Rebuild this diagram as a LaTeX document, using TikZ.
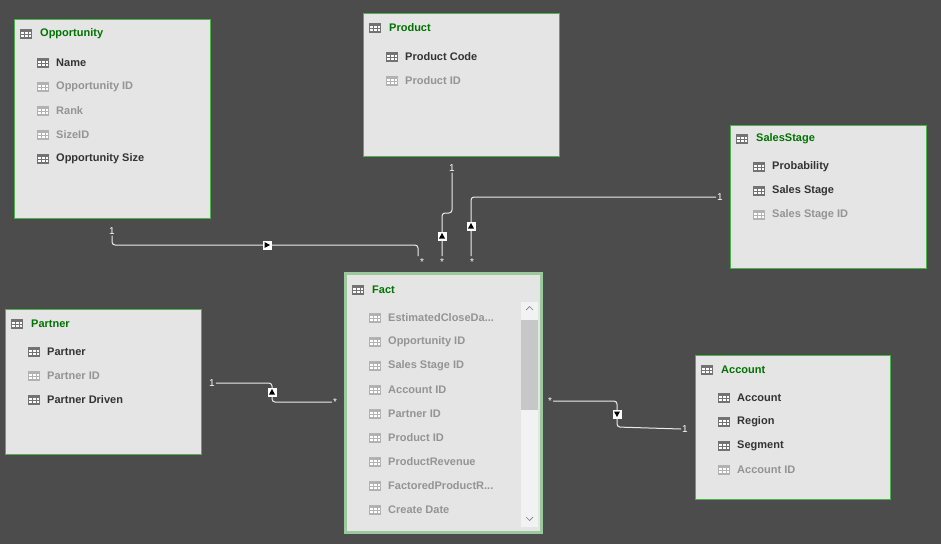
\documentclass[tikz,border=0pt]{standalone}
\usepackage{fontspec}
\setmainfont{Liberation Sans}
\begin{document}
\begin{tikzpicture}[x=1pt,y=-1pt,
  tbl/.style={draw=green!40!gray,fill=black!10,line width=0.8pt,inner sep=0pt},
  ttl/.style={anchor=west,text=green!45!black,font=\bfseries\fontsize{11}{12}\selectfont,inner sep=0pt},
  fb/.style={anchor=west,text=black!80,font=\bfseries\fontsize{11}{12}\selectfont,inner sep=0pt},
  fg/.style={anchor=west,text=black!42,font=\bfseries\fontsize{11}{12}\selectfont,inner sep=0pt},
  lk/.style={draw=black!8,line width=1pt,rounded corners=3pt},
  card/.style={text=white,font=\fontsize{10}{12}\selectfont,inner sep=1pt},
  icon/.pic={\draw[black!55,fill=white,line width=0.6pt] (-5.5,-4.5) rectangle (5.5,4.5);
    \fill[black!55] (-5.5,-4.5) rectangle (5.5,-2);
    \draw[black!55,line width=0.4pt] (-5.5,0.5)--(5.5,0.5) (-5.5,2.7)--(5.5,2.7) (-2,-2)--(-2,4.5) (1.7,-2)--(1.7,4.5);},
  iconl/.pic={\draw[black!30,fill=white,line width=0.6pt] (-5.5,-4.5) rectangle (5.5,4.5);
    \fill[black!30] (-5.5,-4.5) rectangle (5.5,-2);
    \draw[black!30,line width=0.4pt] (-5.5,0.5)--(5.5,0.5) (-5.5,2.7)--(5.5,2.7) (-2,-2)--(-2,4.5) (1.7,-2)--(1.7,4.5);}
]
\newcommand\mkr[3]{\begin{scope}[shift={(#1,#2)},rotate=#3]
  \fill[white] (-4.5,-4.5) rectangle (4.5,4.5);
  \fill[black] (-2.5,-3) -- (-2.5,3) -- (3,0) -- cycle;\end{scope}}
\newcommand\fld[5]{\pic at (#1+22,#2) {#4}; \node[#3] (#5) at (#1+32,#2) {\csname fldtext\endcsname};}
\fill[black!70] (0,0) rectangle (941,544);
\useasboundingbox (0,0) rectangle (941,544);
% Opportunity
\node[tbl,minimum width=196,minimum height=199,anchor=north west] (opp) at (14,19) {};
\pic at (26,34) {icon}; \node[ttl] (oppt) at (40,34) {Opportunity};
\pic at (43,63) {icon}; \node[fb] (o1) at (56,63) {Name};
\pic at (43,87) {iconl}; \node[fg] (o2) at (56,87) {Opportunity ID};
\pic at (43,111) {iconl}; \node[fg] (o3) at (56,111) {Rank};
\pic at (43,135) {iconl}; \node[fg] (o4) at (56,135) {SizeID};
\pic at (43,159) {icon}; \node[fb] (o5) at (56,159) {Opportunity Size};
% Product
\node[tbl,minimum width=196,minimum height=143,anchor=north west] (prod) at (363,13) {};
\pic at (375,28) {icon}; \node[ttl] (prodt) at (389,28) {Product};
\pic at (392,57) {icon}; \node[fb] (p1) at (405,57) {Product Code};
\pic at (392,81) {iconl}; \node[fg] (p2) at (405,81) {Product ID};
% SalesStage
\node[tbl,minimum width=196,minimum height=143,anchor=north west] (ss) at (730,125) {};
\pic at (742,139) {icon}; \node[ttl] (sst) at (756,139) {SalesStage};
\pic at (759,167) {icon}; \node[fb] (s1) at (772,167) {Probability};
\pic at (759,191) {icon}; \node[fb] (s2) at (772,191) {Sales Stage};
\pic at (759,215) {iconl}; \node[fg] (s3) at (772,215) {Sales Stage ID};
% Partner
\node[tbl,minimum width=196,minimum height=145,anchor=north west] (par) at (5,309) {};
\pic at (17,324) {icon}; \node[ttl] (part) at (31,324) {Partner};
\pic at (34,352) {icon}; \node[fb] (r1) at (47,352) {Partner};
\pic at (34,376) {iconl}; \node[fg] (r2) at (47,376) {Partner ID};
\pic at (34,400) {icon}; \node[fb] (r3) at (47,400) {Partner Driven};
% Account
\node[tbl,minimum width=195,minimum height=144,anchor=north west] (acc) at (695,355) {};
\pic at (707,370) {icon}; \node[ttl] (acct) at (721,370) {Account};
\pic at (724,398) {icon}; \node[fb] (a1) at (737,398) {Account};
\pic at (724,422) {icon}; \node[fb] (a2) at (737,422) {Region};
\pic at (724,446) {icon}; \node[fb] (a3) at (737,446) {Segment};
\pic at (724,470) {iconl}; \node[fg] (a4) at (737,470) {Account ID};
% Fact
\node[tbl,draw=green!30!gray!60,line width=2.5pt,minimum width=196,minimum height=259,anchor=north west] (fact) at (344,272) {};
\fill[black!5] (521,302) rectangle (538,527);
\fill[black!22] (521,320) rectangle (538,410);
\draw[black!50,line width=0.7pt] (526,310)--(529.5,306.5)--(533,310) (526,517)--(529.5,520.5)--(533,517);
\pic at (358,290) {icon}; \node[ttl] (factt) at (372,290) {Fact};
\pic at (375,318) {iconl}; \node[fg] (f1) at (388,318) {EstimatedCloseDa...};
\pic at (375,342) {iconl}; \node[fg] (f2) at (388,342) {Opportunity ID};
\pic at (375,366) {iconl}; \node[fg] (f3) at (388,366) {Sales Stage ID};
\pic at (375,390) {iconl}; \node[fg] (f4) at (388,390) {Account ID};
\pic at (375,414) {iconl}; \node[fg] (f5) at (388,414) {Partner ID};
\pic at (375,438) {iconl}; \node[fg] (f6) at (388,438) {Product ID};
\pic at (375,462) {iconl}; \node[fg] (f7) at (388,462) {ProductRevenue};
\pic at (375,486) {iconl}; \node[fg] (f8) at (388,486) {FactoredProductR...};
\pic at (375,510) {iconl}; \node[fg] (f9) at (388,510) {Create Date};
% cardinality labels
\node[card] (c1) at (112,231) {1};
\node[card] (c2) at (422,262) {*};
\node[card] (c3) at (452,168) {1};
\node[card] (c4) at (442,262) {*};
\node[card] (c5) at (720,197) {1};
\node[card] (c6) at (472,262) {*};
\node[card] (c7) at (212,383) {1};
\node[card] (c8) at (335,402) {*};
\node[card] (c9) at (550,401) {*};
\node[card] (c10) at (685,429) {1};
% links
\draw[lk] (c1.south) |- (418,245) -- (418,256);
\draw[lk] (c3.south) |- (442,213) -- (442,256);
\draw[lk] (c5.west) -| (471,256);
\draw[lk] (c7.east) -| (272,402) -- (c8.west);
\draw[lk] (c9.east) -| (617,427) -- (c10.west);
\mkr{267}{245}{0}
\mkr{442}{236}{90}
\mkr{471}{226}{90}
\mkr{272}{392}{90}
\mkr{617}{414}{-90}
\end{tikzpicture}
\end{document}
